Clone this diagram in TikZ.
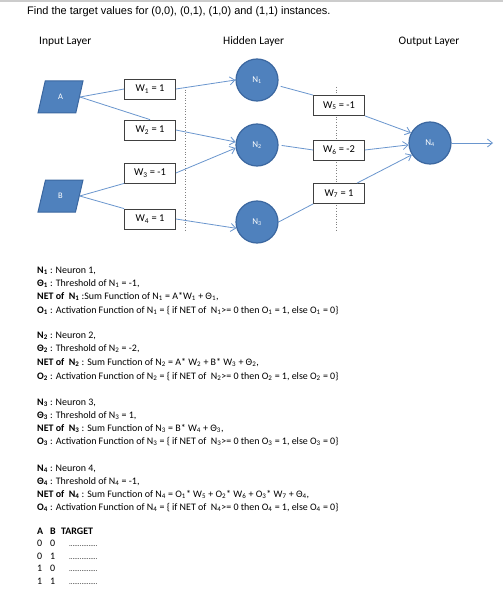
\documentclass[tikz,border=0pt]{standalone}
\usepackage{fontspec}
\setmainfont{Carlito}
\newfontfamily\arialf{Liberation Sans}
\usetikzlibrary{shapes.geometric,arrows.meta}
\definecolor{nfill}{HTML}{4F81BD}
\definecolor{nedge}{HTML}{3B67A0}
\definecolor{lcol}{HTML}{6A96CE}
\newcommand{\sbs}[1]{\textsubscript{#1}}
\begin{document}
\begin{tikzpicture}[x=1bp,y=-1bp,
  inp/.style={trapezium, trapezium left angle=78, trapezium right angle=102, trapezium stretches=true,
    fill=nfill, draw=nedge, line width=1bp, minimum width=45bp, minimum height=32bp,
    text=white, font=\fontsize{8.5}{9}\selectfont, inner sep=0pt},
  neuron/.style={circle, fill=nfill, draw=nedge, line width=1.2bp, minimum size=42bp, inner sep=0pt,
    text=white, font=\fontsize{9}{10}\selectfont},
  wbox/.style={draw=black!75, fill=white, line width=0.8bp, minimum width=51bp, minimum height=20bp,
    inner sep=0pt, font=\fontsize{10.5}{12}\selectfont},
  conn/.style={draw=lcol, line width=0.8bp},
  arr/.style={conn, -{Straight Barb[length=5bp,width=8bp]}},
  dotl/.style={draw=gray, dotted, line width=0.7bp},
  txt/.style={anchor=base west, inner sep=0pt, font=\fontsize{10}{12}\selectfont},
  lay/.style={anchor=base west, inner sep=0pt, font=\fontsize{11.5}{13}\selectfont},
]
\useasboundingbox (0,0) rectangle (503,599);
\fill[white] (0,0) rectangle (503,599);
\coordinate (tl) at (0,1);
\coordinate (tr) at (503,1);
\draw[black!20, line width=1.5bp] (tl) -- (tr);

\node[anchor=base west, inner sep=0pt, font=\arialf\fontsize{11}{13}\selectfont] (title) at (27,14.5)
  {Find the target values for (0,0), (0,1), (1,0) and (1,1) instances.};
\node[lay] (li) at (39,45) {Input Layer};
\node[lay] (lh) at (223,45) {Hidden Layer};
\node[lay] (lo) at (398.5,45) {Output Layer};

% dotted separators
\coordinate (d1t) at (185,87);
\coordinate (d1b) at (185,230);
\coordinate (d2t) at (336,87);
\coordinate (d2b) at (336,230);
\draw[dotl] (d1t) -- (d1b);
\draw[dotl] (d2t) -- (d2b);

% inputs
\node[inp] (A) at (60.5,97) {A};
\node[inp] (B) at (60.5,196) {B};

% weight boxes
\node[wbox] (w1) at (150,89) {W\sbs{1} = 1};
\node[wbox] (w2) at (150,130) {W\sbs{2} = 1};
\node[wbox] (w3) at (150,173) {W\sbs{3} = -1};
\node[wbox] (w4) at (150,219) {W\sbs{4} = 1};
\node[wbox] (w5) at (339,105.5) {W\sbs{5} = -1};
\node[wbox] (w6) at (339,150) {W\sbs{6} = -2};
\node[wbox] (w7) at (339,193.5) {W\sbs{7} = 1};

% neurons
\node[neuron] (n1) at (257,80) {N\sbs{1}};
\node[neuron] (n2) at (257,145) {N\sbs{2}};
\node[neuron] (n3) at (257,222) {N\sbs{3}};
\node[neuron] (n4) at (430,143) {N\sbs{4}};
\coordinate (out) at (493,143);

% connectors
\draw[conn] (A.east) -- (w1.west);
\draw[conn] (A.east) -- (w2.north);
\draw[conn] (B.east) -- (w3.south west);
\draw[conn] (B.east) -- (w4.north west);
\draw[arr] (w1.east) -- (n1.west);
\draw[arr] (w2.east) -- (n2.172);
\draw[arr] (w3.east) -- (n2.188);
\draw[arr] (w4.east) -- (n3.197);
\draw[conn, shorten <=3bp] (n1.-15) -- (w5.north west);
\draw[conn, shorten <=3bp] (n2.east) -- (w6.west);
\draw[conn] (n3.east) -- (w7.south west);
\draw[arr] (w5.south east) -- (n4.152);
\draw[arr] (w6.east) -- (n4.185);
\draw[arr] ([xshift=18bp]w7.north) -- (n4.213);
\draw[arr] (n4.east) -- (out);

% text block
\node[txt] (t11) at (37,273) {\textbf{N\sbs{1}} : Neuron 1,};
\node[txt] (t12) at (37,286) {\textbf{Θ\sbs{1}} : Threshold of N\sbs{1} = -1,};
\node[txt] (t13) at (37,299.5) {\textbf{NET of\ \ N\sbs{1}} :Sum Function of N\sbs{1} = A*W\sbs{1} + Θ\sbs{1},};
\node[txt] (t14) at (37,313) {\textbf{O\sbs{1}} : Activation Function of N\sbs{1} = \{ if NET of\ \ N\sbs{1}>= 0 then O\sbs{1} = 1, else O\sbs{1} = 0\}};

\node[txt] (t21) at (37,338.5) {\textbf{N\sbs{2}} : Neuron 2,};
\node[txt] (t22) at (37,351.5) {\textbf{Θ\sbs{2}} : Threshold of N\sbs{2} = -2,};
\node[txt] (t23) at (37,365) {\textbf{NET of\ \ N\sbs{2}} : Sum Function of N\sbs{2} = A* W\sbs{2} + B* W\sbs{3} + Θ\sbs{2},};
\node[txt] (t24) at (37,379) {\textbf{O\sbs{2}} : Activation Function of N\sbs{2} = \{ if NET of\ \ N\sbs{2}>= 0 then O\sbs{2} = 1, else O\sbs{2} = 0\}};

\node[txt] (t31) at (37,405) {\textbf{N\sbs{3}} : Neuron 3,};
\node[txt] (t32) at (37,418) {\textbf{Θ\sbs{3}} : Threshold of N\sbs{3} = 1,};
\node[txt] (t33) at (37,431) {\textbf{NET of\ \ N\sbs{3}} : Sum Function of N\sbs{3} = B* W\sbs{4} + Θ\sbs{3},};
\node[txt] (t34) at (37,444) {\textbf{O\sbs{3}} : Activation Function of N\sbs{3} = \{ if NET of\ \ N\sbs{3}>= 0 then O\sbs{3} = 1, else O\sbs{3} = 0\}};

\node[txt] (t41) at (37,471) {\textbf{N\sbs{4}} : Neuron 4,};
\node[txt] (t42) at (37,484) {\textbf{Θ\sbs{4}} : Threshold of N\sbs{4} = -1,};
\node[txt] (t43) at (37,497) {\textbf{NET of\ \ N\sbs{4}} : Sum Function of N\sbs{4} = O\sbs{1}* W\sbs{5} + O\sbs{2}* W\sbs{6} + O\sbs{3}* W\sbs{7} + Θ\sbs{4},};
\node[txt] (t44) at (37,510) {\textbf{O\sbs{4}} : Activation Function of N\sbs{4} = \{ if NET of\ \ N\sbs{4}>= 0 then O\sbs{4} = 1, else O\sbs{4} = 0\}};

% table
\node[txt] (ha) at (37,534) {\textbf{A}};
\node[txt] (hb) at (50,534) {\textbf{B}};
\node[txt] (ht) at (61,534) {\textbf{TARGET}};
\foreach \a/\b/\y/\i in {0/0/546.5/1,0/1/559/2,1/0/571.5/3,1/1/584/4}{
  \node[txt] (ra\i) at (37,\y) {\a};
  \node[txt] (rb\i) at (50,\y) {\b};
  \node[txt, font=\fontsize{7}{8}\selectfont] (rd\i) at (69,\y) {................};
}
\end{tikzpicture}
\end{document}
